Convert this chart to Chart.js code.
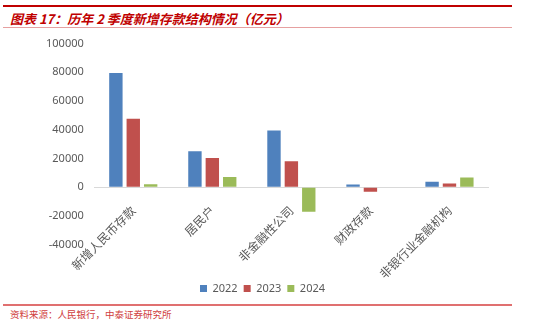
<!DOCTYPE html>
<html>
<head>
<meta charset="utf-8">
<script src="https://cdn.jsdelivr.net/npm/chart.js@4"></script>
<style>
  body { margin: 0; width: 550px; height: 327px; background: #fff; position: relative; overflow: hidden; font-family: "Noto Sans CJK SC", sans-serif; }
  .top-rule { position: absolute; left: 3px; width: 509px; top: 5px; height: 2px; background: #C00000; }
  .title { position: absolute; left: 10px; top: 9px; font-size: 13px; font-weight: bold; font-style: italic; color: #C00000; white-space: nowrap; }
  .title-rule { position: absolute; left: 3px; width: 509px; top: 27px; height: 1px; background: #E6A0A0; }
  .chart-box { position: absolute; left: 0; top: 27px; width: 550px; height: 277px; }
  .source-rule { position: absolute; left: 3px; width: 509px; top: 304px; height: 2px; background: #E07070; }
  .source { position: absolute; left: 10px; top: 307px; font-size: 9.5px; color: #D04040; white-space: nowrap; }
</style>
</head>
<body>
<div class="top-rule"></div>
<div class="title">图表 17：历年 2 季度新增存款结构情况（亿元）</div>
<div class="title-rule"></div>
<div class="chart-box"><canvas id="chart"></canvas></div>
<div class="source-rule"></div>
<div class="source">资料来源：人民银行，中泰证券研究所</div>
<script>
const categories = ['新增人民币存款', '居民户', '非金融性公司', '财政存款', '非银行业金融机构'];
const years = ['2022', '2023', '2024'];
const values2022 = [79500, 25100, 39400, 1900, 3700];
const values2023 = [47700, 20300, 18000, -3200, 2500];
const values2024 = [2000, 7100, -17100, 0, 6700];
const colors = ['#4F81BD', '#C0504D', '#9BBB59'];

const seriesValues = [values2022, values2023, values2024];

new Chart(document.getElementById('chart'), {
  type: 'bar',
  data: {
    labels: categories,
    datasets: years.map((y, i) => ({
      label: y,
      data: seriesValues[i],
      backgroundColor: colors[i],
      categoryPercentage: 0.66,
      barPercentage: 0.77
    }))
  },
  options: {
    responsive: true,
    maintainAspectRatio: false,
    animation: false,
    layout: { padding: { left: 36, right: 61, top: 0, bottom: 0 } },
    plugins: {
      legend: {
        position: 'bottom',
        // empty title only to push the legend rows below the rotated labels
        title: { display: true, text: '', padding: { top: 0, bottom: 18 } },
        labels: {
          boxWidth: 7,
          boxHeight: 7,
          padding: 6,
          color: '#595959',
          font: { family: 'Noto Sans, sans-serif', size: 11 }
        }
      },
      tooltip: { enabled: false }
    },
    scales: {
      x: {
        position: { y: 0 },
        grid: { display: false },
        border: { display: false },
        ticks: {
          minRotation: 45,
          maxRotation: 45,
          padding: 8,
          color: '#595959',
          font: { family: 'Noto Sans CJK SC', size: 12 }
        }
      },
      y: {
        min: -40000,
        max: 100000,
        border: { display: false },
        grid: {
          drawTicks: false,
          color: ctx => ctx.tick && ctx.tick.value === 0 ? '#D9D9D9' : 'rgba(0,0,0,0)'
        },
        ticks: {
          stepSize: 20000,
          padding: 10,
          color: '#595959',
          font: { family: 'Noto Sans, sans-serif', size: 11 },
          callback: v => String(v)
        }
      }
    }
  }
});
</script>
</body>
</html>
